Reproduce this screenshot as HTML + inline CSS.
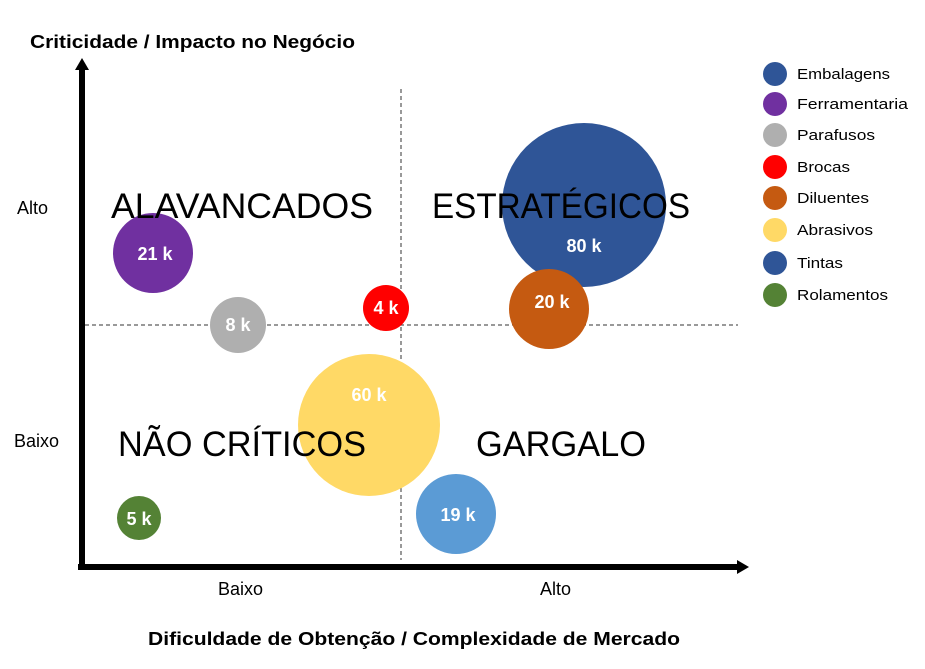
<!DOCTYPE html><html><head><style>body{margin:0;background:#fff}svg{display:block}</style></head><body>
<svg width="925" height="669" xmlns="http://www.w3.org/2000/svg" font-family="Liberation Sans, sans-serif">
<rect width="925" height="669" fill="#fff"/>
<line x1="85" y1="325" x2="738" y2="325" stroke="#333" stroke-width="1" stroke-dasharray="4,3"/>
<line x1="401" y1="89" x2="401" y2="560" stroke="#333" stroke-width="1" stroke-dasharray="4,3"/>
<circle cx="153" cy="253" r="40" fill="#7030A0"/>
<circle cx="238" cy="325" r="28" fill="#AFAFAF"/>
<circle cx="386" cy="308" r="23" fill="#FF0000"/>
<circle cx="369" cy="425" r="71" fill="#FFD966"/>
<circle cx="584" cy="205" r="82" fill="#2F5597"/>
<circle cx="549" cy="309" r="40" fill="#C55A11"/>
<circle cx="456" cy="514" r="40" fill="#5B9BD5"/>
<circle cx="139" cy="518" r="22" fill="#548235"/>
<g font-size="35" fill="#000" text-anchor="middle">
<text x="242" y="218" textLength="262" lengthAdjust="spacingAndGlyphs">ALAVANCADOS</text>
<text x="561" y="218" textLength="258" lengthAdjust="spacingAndGlyphs">ESTRATÉGICOS</text>
<text x="242" y="456" textLength="248" lengthAdjust="spacingAndGlyphs">NÃO CRÍTICOS</text>
<text x="561" y="456" textLength="170" lengthAdjust="spacingAndGlyphs">GARGALO</text>
</g>
<g font-size="18" font-weight="bold" fill="#fff" text-anchor="middle">
<text x="155" y="260">21 k</text><text x="238" y="331">8 k</text><text x="386" y="314">4 k</text>
<text x="369" y="401">60 k</text><text x="584" y="252">80 k</text><text x="552" y="308">20 k</text>
<text x="458" y="521">19 k</text><text x="139" y="525">5 k</text>
</g>
<rect x="79" y="68" width="6" height="502" fill="#000"/>
<polygon points="82,58 75,70 89,70" fill="#000"/>
<rect x="78" y="564" width="660" height="6" fill="#000"/>
<polygon points="749,567 737,560 737,574" fill="#000"/>
<g font-size="18" fill="#000">
<text x="30" y="48" font-weight="bold" textLength="325" lengthAdjust="spacingAndGlyphs">Criticidade / Impacto no Negócio</text>
<text x="148" y="645" font-weight="bold" textLength="532" lengthAdjust="spacingAndGlyphs">Dificuldade de Obtenção / Complexidade de Mercado</text>
<text x="17" y="214">Alto</text><text x="14" y="447">Baixo</text>
<text x="218" y="595">Baixo</text><text x="540" y="595">Alto</text>
</g>
<g font-size="15" fill="#000">
<circle cx="775" cy="74" r="12" fill="#2F5597"/><text x="797" y="79" textLength="93" lengthAdjust="spacingAndGlyphs">Embalagens</text>
<circle cx="775" cy="104" r="12" fill="#7030A0"/><text x="797" y="109" textLength="111" lengthAdjust="spacingAndGlyphs">Ferramentaria</text>
<circle cx="775" cy="135" r="12" fill="#AFAFAF"/><text x="797" y="140" textLength="78" lengthAdjust="spacingAndGlyphs">Parafusos</text>
<circle cx="775" cy="167" r="12" fill="#FF0000"/><text x="797" y="172" textLength="53" lengthAdjust="spacingAndGlyphs">Brocas</text>
<circle cx="775" cy="198" r="12" fill="#C55A11"/><text x="797" y="203" textLength="72" lengthAdjust="spacingAndGlyphs">Diluentes</text>
<circle cx="775" cy="230" r="12" fill="#FFD966"/><text x="797" y="235" textLength="76" lengthAdjust="spacingAndGlyphs">Abrasivos</text>
<circle cx="775" cy="263" r="12" fill="#2F5597"/><text x="797" y="268" textLength="46" lengthAdjust="spacingAndGlyphs">Tintas</text>
<circle cx="775" cy="295" r="12" fill="#548235"/><text x="797" y="300" textLength="91" lengthAdjust="spacingAndGlyphs">Rolamentos</text>
</g>
</svg></body></html>
